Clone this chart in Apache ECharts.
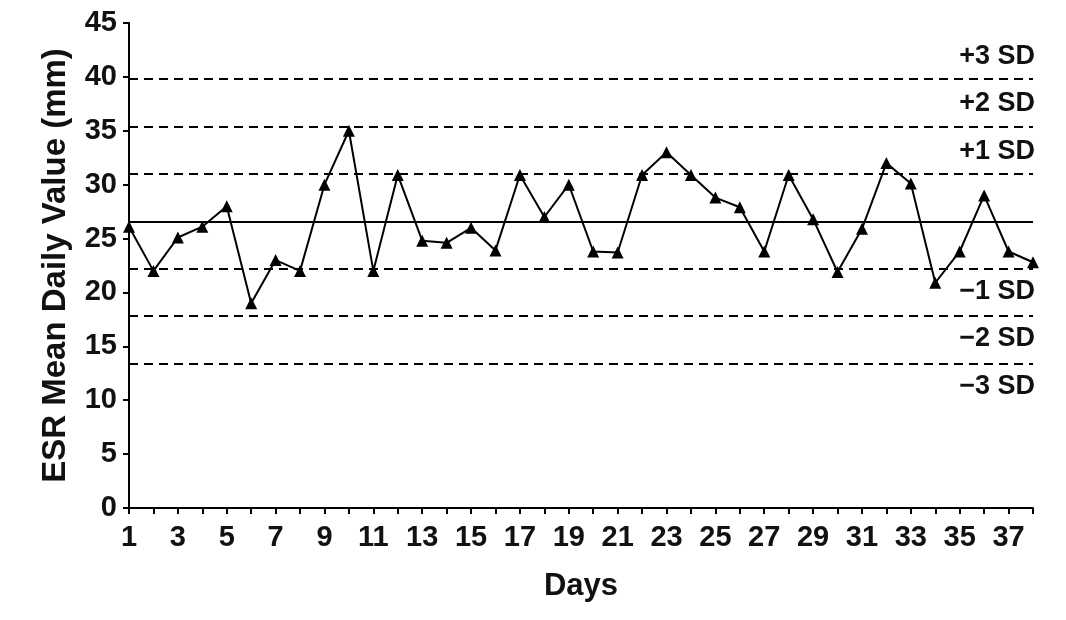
<!DOCTYPE html>
<html>
<head>
<meta charset="utf-8">
<script src="https://cdn.jsdelivr.net/npm/echarts@6/dist/echarts.min.js"></script>
<style>
	html, body { margin: 0; padding: 0; background: #fff; }
	#chart { width: 1066px; height: 620px; }
</style>
</head>
<body>
<div id="chart"></div>
<script>
// 数据
var days = [];
for (var d = 1; d <= 38; d++) {
	days.push(String(d));
}

var esrValues = [26.1, 22.0, 25.1, 26.1, 28.0, 19.0, 23.0, 22.0, 30.0, 35.0,
	22.0, 30.9, 24.8, 24.6, 26.0, 23.9, 30.9, 27.0, 30.0, 23.8,
	23.7, 30.9, 33.0, 30.9, 28.8, 27.9, 23.8, 30.9, 26.8, 21.9,
	25.9, 32.0, 30.1, 20.9, 23.8, 29.0, 23.8, 22.8];

var meanValue = 26.6;
var sdLevels = [39.8, 35.4, 31.0, 22.2, 17.8, 13.4];
var sdLabels = ['+3 SD', '+2 SD', '+1 SD', '\u22121 SD', '\u22122 SD', '\u22123 SD'];

var yTicks = { min: 0, max: 45, interval: 5 };

var font = 'Liberation Sans, Arial, Helvetica, sans-serif';

// 控制线
var markData = [{
	yAxis: meanValue,
	lineStyle: { type: 'solid', width: 2, color: '#000' },
	label: { show: false }
}];
for (var i = 0; i < sdLevels.length; i++) {
	markData.push({
		yAxis: sdLevels[i],
		lineStyle: { type: [9, 6], width: 2, color: '#000' },
		label: {
			show: true,
			formatter: sdLabels[i],
			position: i < 3 ? 'insideEndTop' : 'insideEndBottom',
			distance: [-2, 9],
			color: '#111',
			fontFamily: font,
			fontWeight: 'bold',
			fontSize: 27
		}
	});
}

var myChart = echarts.init(document.getElementById('chart'));

myChart.setOption({
	animation: false,
	backgroundColor: '#fff',
	grid: {
		left: 129,
		right: 33,
		top: 23,
		bottom: 112
	},
	xAxis: {
		type: 'category',
		data: days,
		boundaryGap: false,
		name: 'Days',
		nameLocation: 'middle',
		nameGap: 63,
		nameTextStyle: {
			fontFamily: font,
			fontWeight: 'bold',
			fontSize: 31,
			color: '#111'
		},
		axisLine: { lineStyle: { color: '#000', width: 2 } },
		axisTick: { show: true, interval: 0, length: 6, lineStyle: { color: '#000', width: 2 } },
		axisLabel: {
			interval: 1,
			margin: 15,
			fontFamily: font,
			fontWeight: 'bold',
			fontSize: 29,
			color: '#111'
		},
		splitLine: { show: false }
	},
	yAxis: {
		type: 'value',
		min: yTicks.min,
		max: yTicks.max,
		interval: yTicks.interval,
		name: 'ESR Mean Daily Value (mm)',
		nameLocation: 'middle',
		nameGap: 57,
		nameTextStyle: {
			fontFamily: font,
			fontWeight: 'bold',
			fontSize: 33,
			color: '#111'
		},
		axisLine: { show: true, lineStyle: { color: '#000', width: 2 } },
		axisTick: { show: true, length: 6, lineStyle: { color: '#000', width: 2 } },
		axisLabel: {
			margin: 12,
			fontFamily: font,
			fontWeight: 'bold',
			fontSize: 29,
			color: '#111'
		},
		splitLine: { show: false }
	},
	series: [{
		name: 'ESR',
		type: 'line',
		data: esrValues,
		symbol: 'triangle',
		symbolSize: 12,
		clip: false,
		lineStyle: { color: '#000', width: 2 },
		itemStyle: { color: '#000' },
		markLine: {
			silent: true,
			symbol: 'none',
			animation: false,
			data: markData
		}
	}]
});
</script>
</body>
</html>
